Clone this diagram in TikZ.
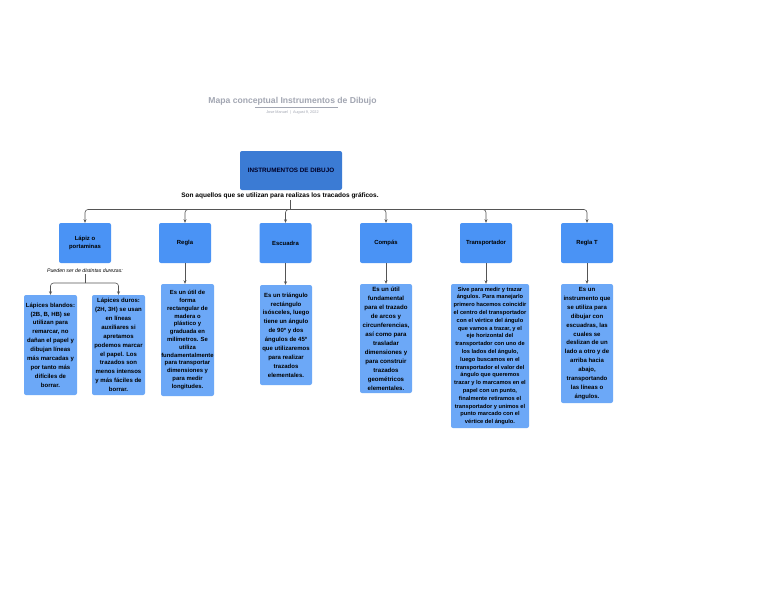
\documentclass[tikz,border=0pt]{standalone}
\usepackage{fontspec}
\setmainfont{Liberation Sans}
\usetikzlibrary{arrows.meta}
\definecolor{mainblue}{HTML}{3B7BD4}
\definecolor{boxblue}{HTML}{4A93F5}
\definecolor{descblue}{HTML}{6CA8F7}
\definecolor{linegray}{HTML}{555555}
\definecolor{titlegray}{HTML}{A2A6B2}
\tikzset{
  lvltwo/.style={fill=boxblue, rounded corners=2pt, align=center, minimum width=52pt, minimum height=40pt, inner sep=0pt, font=\fontsize{5.9}{7.5}\selectfont\bfseries},
  desc/.style={fill=descblue, rounded corners=2pt, align=center, inner sep=0pt},
  conn/.style={draw=linegray, line width=0.6pt, rounded corners=3pt},
  arr/.style={conn, -{Stealth[length=3.5pt,width=3pt]}}
}
\begin{document}
\begin{tikzpicture}[x=1pt,y=-1pt]
\path[use as bounding box, fill=white] (0,0) rectangle (768,594);
% title
\node (title) at (292.5,101) {\fontsize{8.6}{9}\selectfont\bfseries\color{titlegray}Mapa conceptual Instrumentos de Dibujo};
\draw[titlegray, line width=0.4pt] (255,107.5) -- (338,107.5);
\node (sub) at (292.5,112.5) {\fontsize{3.8}{4}\selectfont\color{titlegray}Jose Manuel \ |\ \ August 9, 2022};
% main
\node[fill=mainblue, rounded corners=2pt, minimum width=102pt, minimum height=39pt, inner sep=0pt, font=\fontsize{6.3}{7}\selectfont\bfseries, text=black!85!blue] (main) at (291,170.5) {INSTRUMENTOS DE DIBUJO};
\node[inner sep=1pt, font=\fontsize{6.5}{7}\selectfont\bfseries] (sum) at (280,196) {Son aquellos que se utilizan para realizas los tracados gráficos.};
\coordinate (hub) at (290,209.5);
% level 2
\node[lvltwo] (lapiz) at (85,243) {Lápiz o\\portaminas};
\node[lvltwo] (regla) at (185,243) {Regla};
\node[lvltwo] (escuadra) at (285.5,243) {Escuadra};
\node[lvltwo] (compas) at (386,243) {Compás};
\node[lvltwo] (transp) at (486,243) {Transportador};
\node[lvltwo] (reglat) at (587,243) {Regla T};
% connectors level 1 -> 2
\draw[conn] (sum.south -| hub) -- (hub);
\foreach \n in {lapiz,regla,escuadra,compas,transp,reglat}{
  \draw[arr] (hub) -| (\n.north);
}
% lapiz sub
\node[inner sep=1pt, font=\fontsize{5.2}{5.5}\selectfont\itshape] (durezas) at (85,271) {Pueden ser de distintas durezas:};
\coordinate (hubb) at (85,283);
\node[desc, minimum width=53pt, minimum height=100pt, font=\fontsize{6}{8.9}\selectfont\bfseries] (blandos) at (50.5,345) {Lápices blandos:\\(2B, B, HB) se\\utilizan para\\remarcar, no\\dañan el papel y\\dibujan líneas\\más marcadas y\\por tanto más\\difíciles de\\borrar.};
\node[desc, minimum width=53pt, minimum height=100pt, font=\fontsize{6}{8.9}\selectfont\bfseries] (duros) at (118.5,345) {Lápices duros:\\(2H, 3H) se usan\\en líneas\\auxiliares si\\apretamos\\podemos marcar\\el papel. Los\\trazados son\\menos intensos\\y más fáciles de\\borrar.};
\draw[conn] (durezas.south) -- (hubb);
\draw[arr] (hubb) -| (blandos.north);
\draw[arr] (hubb) -| (duros.north);
% descriptions
\node[desc, minimum width=53pt, minimum height=112pt, font=\fontsize{5.9}{7.8}\selectfont\bfseries] (reglad) at (187.5,340) {Es un útil de\\forma\\rectangular de\\madera o\\plástico y\\graduada en\\milímetros. Se\\utiliza\\fundamentalmente\\para transportar\\dimensiones y\\para medir\\longitudes.};
\node[desc, minimum width=52pt, minimum height=100pt, font=\fontsize{6}{8.9}\selectfont\bfseries] (escd) at (286,335) {Es un triángulo\\rectángulo\\isósceles, luego\\tiene un ángulo\\de 90º y dos\\ángulos de 45º\\que utilizaremos\\para realizar\\trazados\\elementales.};
\node[desc, minimum width=52pt, minimum height=109pt, font=\fontsize{6.1}{9}\selectfont\bfseries] (compd) at (386,338.5) {Es un útil\\fundamental\\para el trazado\\de arcos y\\circunferencias,\\así como para\\trasladar\\dimensiones y\\para construir\\trazados\\geométricos\\elementales.};
\node[desc, minimum width=78pt, minimum height=144pt, font=\fontsize{5.7}{7.8}\selectfont\bfseries] (transd) at (490,356) {Sive para medir y trazar\\ángulos. Para manejarlo\\primero hacemos coincidir\\el centro del transportador\\con el vértice del ángulo\\que vamos a trazar, y el\\eje horizontal del\\transportador con uno de\\los lados del ángulo,\\luego buscamos en el\\transportador el valor del\\ángulo que queremos\\trazar y lo marcamos en el\\papel con un punto,\\finalmente retiramos el\\transportador y unimos el\\punto marcado con el\\vértice del ángulo.};
\node[desc, minimum width=52pt, minimum height=119pt, font=\fontsize{6}{8.9}\selectfont\bfseries] (rtd) at (587,343.5) {Es un\\instrumento que\\se utiliza para\\dibujar con\\escuadras, las\\cuales se\\deslizan de un\\lado a otro y de\\arriba hacia\\abajo,\\transportando\\las líneas o\\ángulos.};
\draw[arr] (regla.south) -- (regla.south |- reglad.north);
\draw[arr] (escuadra.south) -- (escuadra.south |- escd.north);
\draw[arr] (compas.south) -- (compas.south |- compd.north);
\draw[arr] (transp.south) -- (transp.south |- transd.north);
\draw[arr] (reglat.south) -- (reglat.south |- rtd.north);
\end{tikzpicture}
\end{document}
